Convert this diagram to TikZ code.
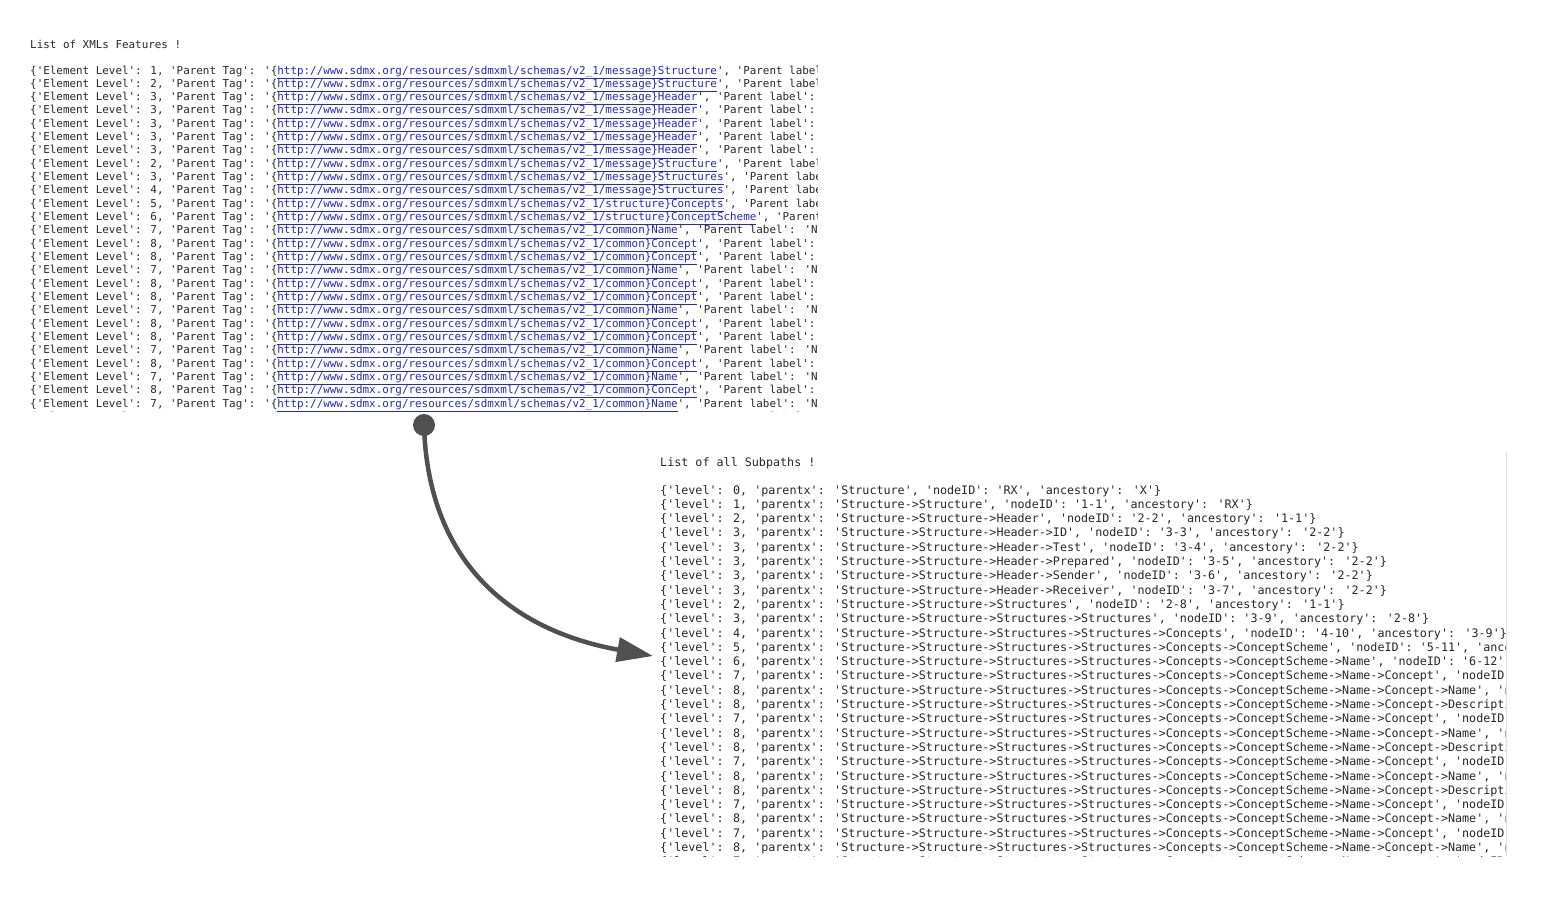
\documentclass[tikz,border=0pt]{standalone}
\usepackage{fontspec}
\newfontfamily\monof{DejaVu Sans Mono}
\usetikzlibrary{arrows.meta}
\definecolor{linkblue}{RGB}{40,40,190}
\definecolor{txt}{RGB}{40,40,40}
\definecolor{arr}{RGB}{80,80,80}
\newcommand\sdmx[2]{'\{\textcolor{linkblue}{\underline{http://www.sdmx.org/resources/sdmxml/schemas/v2\_1/#1\}#2}}'}
\newcommand\EL[3]{\{'Element Level': #1, 'Parent Tag': \sdmx{#2}{#3}, 'Parent label': 'None', 'Tag': 'x'\}}
\newcommand\SP[4]{\{'level': #1, 'parentx': '#2', 'nodeID': '#3', 'ancestory': '#4'\}}
\def\P{Structure->Structure->Structures->Structures->Concepts->ConceptScheme->Name}
\begin{document}
\begin{tikzpicture}[x=1pt,y=-1pt,
  lft/.style={anchor=base west,inner sep=0pt,font=\monof\fontsize{10.9}{13}\selectfont,text=txt},
  rgt/.style={anchor=base west,inner sep=0pt,font=\monof\fontsize{11.72}{14}\selectfont,text=txt}]
\useasboundingbox[fill=white] (0,0) rectangle (1541,897);
\node[lft] (t1) at (30,48) {List of XMLs Features !};
\begin{scope}
\clip (25,55) rectangle (817,411);
\foreach \i/\l/\n/\t in {0/1/message/Structure,1/2/message/Structure,2/3/message/Header,3/3/message/Header,4/3/message/Header,5/3/message/Header,6/3/message/Header,7/2/message/Structure,8/3/message/Structures,9/4/message/Structures,10/5/structure/Concepts,11/6/structure/ConceptScheme,12/7/common/Name,13/8/common/Concept,14/8/common/Concept,15/7/common/Name,16/8/common/Concept,17/8/common/Concept,18/7/common/Name,19/8/common/Concept,20/8/common/Concept,21/7/common/Name,22/8/common/Concept,23/7/common/Name,24/8/common/Concept,25/7/common/Name,26/8/common/Concept}
  \node[lft] (e\i) at (30,{74+13.32*\i}) {\EL{\l}{\n}{\t}};
\end{scope}
\node[rgt] (t2) at (660,466) {List of all Subpaths !};
\begin{scope}
\clip (650,480) rectangle (1505,856);
\node[rgt] (s0) at (660,494) {\SP{0}{Structure}{RX}{X}};
\node[rgt] (s1) at (660,508.3) {\SP{1}{Structure->Structure}{1-1}{RX}};
\node[rgt] (s2) at (660,522.6) {\SP{2}{Structure->Structure->Header}{2-2}{1-1}};
\node[rgt] (s3) at (660,536.9) {\SP{3}{Structure->Structure->Header->ID}{3-3}{2-2}};
\node[rgt] (s4) at (660,551.2) {\SP{3}{Structure->Structure->Header->Test}{3-4}{2-2}};
\node[rgt] (s5) at (660,565.5) {\SP{3}{Structure->Structure->Header->Prepared}{3-5}{2-2}};
\node[rgt] (s6) at (660,579.8) {\SP{3}{Structure->Structure->Header->Sender}{3-6}{2-2}};
\node[rgt] (s7) at (660,594.1) {\SP{3}{Structure->Structure->Header->Receiver}{3-7}{2-2}};
\node[rgt] (s8) at (660,608.4) {\SP{2}{Structure->Structure->Structures}{2-8}{1-1}};
\node[rgt] (s9) at (660,622.7) {\SP{3}{Structure->Structure->Structures->Structures}{3-9}{2-8}};
\node[rgt] (s10) at (660,637) {\SP{4}{Structure->Structure->Structures->Structures->Concepts}{4-10}{3-9}};
\node[rgt] (s11) at (660,651.3) {\SP{5}{Structure->Structure->Structures->Structures->Concepts->ConceptScheme}{5-11}{4-10}};
\node[rgt] (s12) at (660,665.6) {\SP{6}{\P}{6-12}{5-11}};
\foreach \i/\l/\x in {13/7/Concept,14/8/Concept->Name,15/8/Concept->Description,16/7/Concept,17/8/Concept->Name,18/8/Concept->Description,19/7/Concept,20/8/Concept->Name,21/8/Concept->Description,22/7/Concept,23/8/Concept->Name,24/7/Concept,25/8/Concept->Name,26/7/Concept}
  \node[rgt] (s\i) at (660,{494+14.3*\i}) {\SP{\l}{\P->\x}{\l-\i}{7-13}};
\end{scope}
\draw[gray!25,line width=0.8pt] (1506,452) -- (1506,856);
\coordinate (dot) at (424,425);
\coordinate (tip) at (653,656);
\fill[arr] (dot) circle (11);
\draw[arr,line width=4.5pt,-{Triangle[length=36pt,width=24pt]}] (dot) .. controls (428,570) and (520,632) .. (tip);
\end{tikzpicture}
\end{document}
